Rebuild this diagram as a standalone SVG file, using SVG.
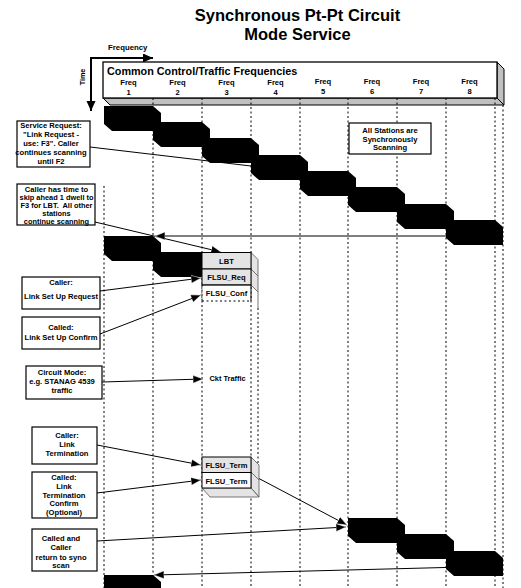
<svg xmlns="http://www.w3.org/2000/svg" width="521" height="588" viewBox="0 0 521 588">
<style>
.t{font-family:"Liberation Sans",Arial,sans-serif;font-weight:bold;fill:#000}
.s{font-size:7.6px;text-anchor:middle}
.f{font-size:7.6px;text-anchor:middle}
.box{fill:#fff;stroke:#000;stroke-width:1.2}
.col{stroke:#000;stroke-width:1;stroke-dasharray:2 2.5;fill:none}
.blk{fill:#000}
.con{stroke:#000;stroke-width:1;fill:none}
.cell{fill:#e4e4e4;stroke:#000;stroke-width:1}
.side{fill:#e4e4e4;stroke:#555;stroke-width:0.8}
</style>
<defs>
<marker id="ah" markerUnits="userSpaceOnUse" markerWidth="12" markerHeight="9" refX="10" refY="4" orient="auto">
<path d="M0,0 L10,4 L0,8 z" fill="#000" stroke="#fff" stroke-width="0.5"/>
</marker>
<marker id="axh" markerUnits="userSpaceOnUse" markerWidth="12" markerHeight="10" refX="10" refY="4.5" orient="auto">
<path d="M0,0 L10,4.5 L0,9 z" fill="#000"/>
</marker>
</defs>

<g id="title">
<text class="t" x="297.5" y="21" font-size="16.5" text-anchor="middle">Synchronous Pt-Pt Circuit</text>
<text class="t" x="297.5" y="39.5" font-size="16.5" text-anchor="middle">Mode Service</text>
</g>

<g id="axes">
<line x1="91" y1="58" x2="153" y2="58" stroke="#000" stroke-width="2" marker-end="url(#axh)"/>
<line x1="91" y1="57" x2="91" y2="111" stroke="#000" stroke-width="2" marker-end="url(#axh)"/>
<text class="t" x="108" y="50" font-size="7.8">Frequency</text>
<text class="t" x="0" y="0" font-size="7.2" text-anchor="middle" transform="translate(84.5,77) rotate(-90)">Time</text>
</g>

<g id="columns">
<line class="col" x1="104" y1="186" x2="104" y2="588"/>
<line class="col" x1="153" y1="98" x2="153" y2="588"/>
<line class="col" x1="202" y1="98" x2="202" y2="588"/>
<line class="col" x1="251" y1="98" x2="251" y2="588"/>
<line class="col" x1="300" y1="98" x2="300" y2="588"/>
<line class="col" x1="348" y1="98" x2="348" y2="588"/>
<line class="col" x1="397" y1="98" x2="397" y2="588"/>
<line class="col" x1="446" y1="98" x2="446" y2="588"/>
<line class="col" x1="495" y1="98" x2="495" y2="588"/>
<line class="col" x1="503" y1="105" x2="503" y2="588"/>
<line class="col" x1="258" y1="308" x2="258" y2="465"/>
</g>

<g id="header">
<polygon points="103,98 497,98 504,105 110,105" fill="#c0c0c0" stroke="#000" stroke-width="1"/>
<polygon points="497,62 504,69 504,105 497,98" fill="#c0c0c0" stroke="#000" stroke-width="1"/>
<rect x="103" y="62" width="394" height="36" fill="#fff" stroke="#000" stroke-width="1.3"/>
<line class="col" x1="153" y1="98" x2="153" y2="105"/>
<line class="col" x1="202" y1="98" x2="202" y2="105"/>
<line class="col" x1="251" y1="98" x2="251" y2="105"/>
<line class="col" x1="300" y1="98" x2="300" y2="105"/>
<line class="col" x1="348" y1="98" x2="348" y2="105"/>
<line class="col" x1="397" y1="98" x2="397" y2="105"/>
<line class="col" x1="446" y1="98" x2="446" y2="105"/>
<line class="col" x1="495" y1="98" x2="495" y2="105"/>
<text class="t" x="107" y="75" font-size="10.8">Common Control/Traffic Frequencies</text>
<text class="t f" x="128.5" y="85">Freq</text><text class="t f" x="128.5" y="95">1</text>
<text class="t f" x="177.5" y="85">Freq</text><text class="t f" x="177.5" y="95">2</text>
<text class="t f" x="226.5" y="85">Freq</text><text class="t f" x="226.5" y="95">3</text>
<text class="t f" x="275.5" y="85">Freq</text><text class="t f" x="275.5" y="95">4</text>
<text class="t f" x="323" y="83.5">Freq</text><text class="t f" x="323" y="93.5">5</text>
<text class="t f" x="372" y="83.5">Freq</text><text class="t f" x="372" y="93.5">6</text>
<text class="t f" x="421" y="83.5">Freq</text><text class="t f" x="421" y="93.5">7</text>
<text class="t f" x="469.5" y="83.5">Freq</text><text class="t f" x="469.5" y="93.5">8</text>
</g>

<g id="blocks">
<polygon class="blk" points="104,106 153,106 161,113 161,131 112,131 104,124"/>
<polygon class="blk" points="153,122 202,122 210,129 210,147 161,147 153,140"/>
<polygon class="blk" points="202,138 251,138 259,145 259,163 210,163 202,156"/>
<polygon class="blk" points="251,155 300,155 308,162 308,180 259,180 251,173"/>
<polygon class="blk" points="300,171 348,171 356,178 356,196 308,196 300,189"/>
<polygon class="blk" points="348,187 397,187 405,194 405,212 356,212 348,205"/>
<polygon class="blk" points="397,204 446,204 454,211 454,229 405,229 397,222"/>
<polygon class="blk" points="446,220 495,220 503,227 503,245 454,245 446,238"/>
<polygon class="blk" points="104,236 153,236 161,243 161,261 112,261 104,254"/>
<polygon class="blk" points="153,252 202,252 210,259 210,277 161,277 153,270"/>
<polygon class="blk" points="348,518 397,518 405,525 405,543 356,543 348,536"/>
<polygon class="blk" points="397,534 446,534 454,541 454,559 405,559 397,552"/>
<polygon class="blk" points="446,551 495,551 503,558 503,576 454,576 446,569"/>
<polygon class="blk" points="104,575 153,575 161,582 161,600 112,600 104,593"/>
</g>

<g id="connectors">
<line class="con" x1="90" y1="147" x2="251" y2="166"/>
<line class="con" x1="95" y1="222" x2="221" y2="252" marker-end="url(#ah)"/>
<line class="con" x1="503" y1="236" x2="155" y2="236" marker-end="url(#ah)"/>
<line class="con" x1="100" y1="291" x2="201" y2="278" marker-end="url(#ah)"/>
<line class="con" x1="100" y1="334" x2="201" y2="295" marker-end="url(#ah)"/>
<line class="con" x1="102" y1="382" x2="203" y2="379" marker-end="url(#ah)"/>
<line class="con" x1="97" y1="445" x2="201" y2="465" marker-end="url(#ah)"/>
<line class="con" x1="97" y1="493" x2="201" y2="480" marker-end="url(#ah)"/>
<line class="con" x1="258" y1="478" x2="347" y2="525" marker-end="url(#ah)"/>
<line class="con" x1="97" y1="541" x2="346" y2="527" marker-end="url(#ah)"/>
<line class="con" x1="503" y1="566" x2="154" y2="575" marker-end="url(#ah)"/>
</g>

<g id="n-service-request">
<rect class="box" x="17" y="121" width="73" height="46"/>
<text class="t s" x="51" y="127.5">Service Request:</text>
<text class="t s" x="51" y="136.7">"Link Request -</text>
<text class="t s" x="51" y="145.9">use: F3". Caller</text>
<text class="t s" x="51" y="155.1">continues scanning</text>
<text class="t s" x="51" y="164.3">until F2</text>
</g>

<g id="n-all-stations">
<rect class="box" x="349" y="123" width="82" height="31"/>
<text class="t s" x="390" y="133">All Stations are</text>
<text class="t s" x="390" y="141.5">Synchronously</text>
<text class="t s" x="390" y="150">Scanning</text>
</g>

<g id="n-caller-time">
<rect class="box" x="17" y="184" width="78" height="41"/>
<text class="t s" x="56.5" y="191.5" font-size="7.4">Caller has time to</text>
<text class="t s" x="56.5" y="199.5" style="font-size:7.4px">skip ahead 1 dwell to</text>
<text class="t s" x="56.5" y="207.5" style="white-space:pre;font-size:7.4px">F3 for LBT.  All other</text>
<text class="t s" x="56.5" y="215.5" style="font-size:7.4px">stations</text>
<text class="t s" x="56.5" y="223.5" style="font-size:7.4px">continue scanning</text>
</g>

<g id="n-lbt-stack">
<polygon class="side" points="251,252.5 258,259.5 258,292 251,285"/>
<line x1="251" y1="269" x2="258" y2="276" stroke="#555" stroke-width="0.8"/>
<line x1="258" y1="292" x2="258" y2="308" stroke="#555" stroke-width="0.8"/>
<rect class="cell" x="202" y="252.5" width="49" height="16.5"/>
<rect class="cell" x="202" y="269" width="49" height="16"/>
<rect x="202.5" y="285.5" width="48" height="15" fill="#fff"/>
<line x1="202" y1="285" x2="251" y2="285" stroke="#000" stroke-width="1"/>
<line x1="251" y1="285" x2="251" y2="301" stroke="#000" stroke-width="1"/>
<line class="col" x1="202" y1="301" x2="251" y2="301"/>
<line class="col" x1="202" y1="285" x2="202" y2="301"/>
<text class="t f" x="226.5" y="263.5">LBT</text>
<text class="t f" x="226.5" y="280">FLSU_Req</text>
<text class="t f" x="226.5" y="296">FLSU_Conf</text>
</g>

<g id="n-link-setup-request">
<rect class="box" x="22" y="277" width="78" height="32"/>
<text class="t s" x="61" y="285">Caller:</text>
<text class="t s" x="61" y="298.5">Link Set Up Request</text>
</g>

<g id="n-link-setup-confirm">
<rect class="box" x="22" y="317" width="78" height="32"/>
<text class="t s" x="61" y="330">Called:</text>
<text class="t s" x="61" y="339.5">Link Set Up Confirm</text>
</g>

<g id="n-circuit-mode">
<rect class="box" x="26" y="366" width="76" height="33"/>
<text class="t s" x="62" y="375">Circuit Mode:</text>
<text class="t s" x="62" y="384">e.g. STANAG 4539</text>
<text class="t s" x="62" y="393">traffic</text>
</g>

<g id="n-ckt-traffic">
<text class="t" x="209.5" y="381" font-size="7.4">Ckt Traffic</text>
</g>

<g id="n-link-termination">
<rect class="box" x="32" y="427" width="65" height="37"/>
<text class="t s" x="67" y="437.5">Caller:</text>
<text class="t s" x="67" y="446.5">Link</text>
<text class="t s" x="67" y="456">Termination</text>
</g>

<g id="n-termination-confirm">
<rect class="box" x="32" y="472" width="65" height="46"/>
<text class="t s" x="64" y="480">Called:</text>
<text class="t s" x="64" y="489">Link</text>
<text class="t s" x="64" y="497.5">Termination</text>
<text class="t s" x="64" y="506">Confirm</text>
<text class="t s" x="64" y="514.5">(Optional)</text>
</g>

<g id="n-term-stack">
<polygon class="side" points="251,457 259,465 259,497 251,488"/>
<polygon class="side" points="202,488 251,488 259,497 210,497"/>
<line x1="251" y1="472" x2="259" y2="480" stroke="#555" stroke-width="0.8"/>
<rect class="cell" x="202" y="457" width="49" height="15.5"/>
<rect x="202" y="472.5" width="49" height="15.5" fill="#fff" stroke="#000" stroke-width="1"/>
<text class="t f" x="226.5" y="468">FLSU_Term</text>
<text class="t f" x="226.5" y="483.5">FLSU_Term</text>
</g>

<g id="n-return-sync">
<rect class="box" x="32" y="529" width="65" height="42"/>
<text class="t s" x="61" y="541">Called and</text>
<text class="t s" x="61" y="550">Caller</text>
<text class="t s" x="61" y="559.5">return to syno</text>
<text class="t s" x="61" y="568">scan</text>
</g>
</svg>
